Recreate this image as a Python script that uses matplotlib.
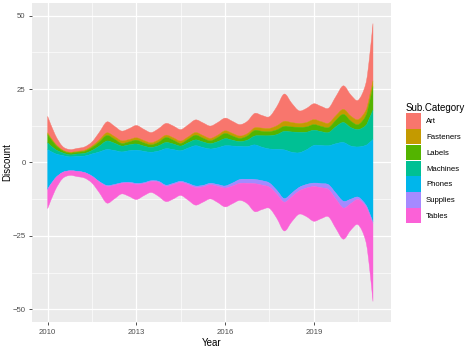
import numpy as np
import matplotlib
matplotlib.use("Agg")
import matplotlib.pyplot as plt
from matplotlib.patches import Patch, PathPatch
from matplotlib.path import Path

# sample points along the year axis (quarter years, extra point near the end spike)
year = [2010.0, 2010.25, 2010.5, 2010.75, 2011.0, 2011.25, 2011.5, 2011.75,
        2012.0, 2012.25, 2012.5, 2012.75, 2013.0, 2013.25, 2013.5, 2013.75,
        2014.0, 2014.25, 2014.5, 2014.75, 2015.0, 2015.25, 2015.5, 2015.75,
        2016.0, 2016.25, 2016.5, 2016.75, 2017.0, 2017.25, 2017.5, 2017.75,
        2018.0, 2018.25, 2018.5, 2018.75, 2019.0, 2019.25, 2019.5, 2019.75,
        2020.0, 2020.25, 2020.5, 2020.75, 2020.875, 2021.0]

# stream thickness of each sub category (discount)
art = [5.6, 3.0, 1.2, 0.9, 1.0, 1.1, 1.4, 2.6, 3.7, 3.5, 3.3, 3.7, 4.2, 3.8, 3.5, 3.8,
       4.0, 4.0, 3.9, 4.1, 4.3, 4.3, 4.2, 4.3, 4.3, 4.1, 3.9, 4.2, 4.9, 4.3, 4.0, 6.5,
       9.3, 6.6, 4.3, 4.8, 5.4, 5.2, 5.1, 6.5, 8.0, 7.2, 6.6, 9.0, 13.0, 19.5]
fasteners = [0.6, 0.4, 0.3, 0.3, 0.3, 0.4, 0.5, 0.7, 0.9, 0.9, 0.9, 0.8, 0.8, 0.8, 0.7, 0.8,
             0.8, 0.8, 0.8, 0.8, 0.9, 0.9, 0.8, 0.8, 0.9, 0.9, 0.8, 0.8, 0.9, 1.1, 1.1, 1.4,
             1.7, 1.5, 1.3, 1.5, 1.7, 1.6, 1.5, 1.6, 1.7, 1.7, 1.7, 1.8, 1.9, 2.0]
labels = [2.8, 1.6, 0.7, 0.6, 0.6, 0.7, 1.0, 1.4, 1.9, 1.4, 0.9, 1.0, 1.3, 1.1, 0.9, 1.2,
          1.7, 1.3, 0.9, 1.2, 1.6, 1.3, 1.0, 1.4, 1.8, 1.4, 1.1, 1.4, 1.9, 1.5, 1.4, 1.6,
          1.7, 1.7, 1.7, 1.8, 1.9, 1.8, 1.7, 2.2, 2.8, 2.2, 1.7, 3.2, 5.2, 8.0]
machines = [2.3, 1.5, 0.9, 0.7, 0.8, 0.9, 1.2, 2.0, 2.9, 2.5, 2.0, 2.0, 2.1, 1.8, 1.6, 1.8,
            2.1, 1.9, 1.6, 1.8, 2.0, 1.9, 1.8, 2.1, 2.4, 2.0, 1.6, 2.2, 3.0, 3.9, 4.5, 5.0,
            6.3, 6.9, 7.0, 6.0, 5.2, 4.7, 4.5, 5.8, 6.8, 6.3, 5.9, 6.7, 8.2, 10.0]
phones = [13.4, 8.4, 5.8, 4.7, 5.1, 5.6, 7.5, 10.1, 12.2, 11.6, 10.5, 10.7, 11.3, 10.7, 9.7, 10.3,
          12.4, 11.5, 10.4, 12.0, 13.7, 12.9, 11.7, 12.5, 13.7, 12.6, 11.3, 11.1, 11.8, 11.4, 11.6, 14.0,
          16.6, 14.0, 11.8, 11.8, 12.8, 13.0, 13.3, 16.9, 20.0, 18.1, 17.1, 20.1, 23.7, 28.1]
supplies = [0.3, 0.2, 0.1, 0.1, 0.1, 0.1, 0.2, 0.2, 0.3, 0.3, 0.2, 0.3, 0.3, 0.3, 0.3, 0.3,
            0.4, 0.4, 0.4, 0.4, 0.5, 0.5, 0.5, 0.6, 0.7, 1.0, 1.3, 1.4, 1.4, 1.5, 1.4, 1.3,
            1.2, 1.2, 1.2, 1.2, 1.2, 1.4, 1.6, 2.0, 2.3, 1.5, 0.8, 0.6, 0.6, 0.6]
tables = [6.4, 3.9, 2.0, 1.5, 1.7, 1.8, 2.2, 3.6, 5.7, 4.6, 3.6, 4.5, 5.2, 4.1, 3.7, 4.8,
          5.2, 4.9, 4.4, 5.3, 6.0, 5.2, 4.8, 5.5, 6.4, 6.0, 5.8, 6.9, 9.5, 8.3, 7.2, 8.2,
          9.8, 8.5, 7.9, 9.7, 11.8, 10.5, 9.3, 10.0, 10.6, 9.0, 8.6, 11.6, 17.4, 26.4]

categories = ["Art", "Fasteners", "Labels", "Machines", "Phones", "Supplies", "Tables"]
colors = ["#F8766D", "#C49A00", "#53B400", "#00C094", "#00B6EB", "#A58AFF", "#FB61D7"]

plt.rcParams['font.family'] = ['Liberation Sans', 'DejaVu Sans']


# smooth curve through the points (Catmull-Rom drawn as cubic Bezier)
def smooth_path(xs, ys):
    pts = np.column_stack([xs, ys])
    p = np.vstack([pts[0], pts, pts[-1]])
    verts = [pts[0]]
    for i in range(1, len(p) - 2):
        verts += [p[i] + (p[i + 1] - p[i - 1]) / 6,
                  p[i + 1] - (p[i + 2] - p[i]) / 6,
                  p[i + 1]]
    return verts


fig = plt.figure(figsize=(4.74, 3.51), dpi=100)
ax = fig.add_axes([0.0669, 0.0835, 0.7574, 0.9071])
ax.set_facecolor("#EBEBEB")

# streamgraph, stacked from top (Art) to bottom (Tables), mirrored around zero
x = np.array(year)
stack = np.array([art, fasteners, labels, machines, phones, supplies, tables])
total = stack.sum(axis=0)
edges = total / 2 - np.vstack([np.zeros(len(x)), np.cumsum(stack, axis=0)])
for i, c in enumerate(colors):
    upper = smooth_path(x, edges[i])
    lower = smooth_path(x[::-1], edges[i + 1][::-1])
    verts = upper + lower + [upper[0]]
    n = len(upper)
    codes = ([Path.MOVETO] + [Path.CURVE4] * (n - 1) + [Path.LINETO]
             + [Path.CURVE4] * (n - 1) + [Path.CLOSEPOLY])
    ax.add_patch(PathPatch(Path(verts, codes), facecolor=c, edgecolor=c,
                           linewidth=0.3, zorder=3))

# axes, ticks and grid in ggplot style
ax.set_xlim(2009.46, 2021.6)
ax.set_ylim(-54.2, 54.2)
ax.set_xticks([2010, 2013, 2016, 2019])
ax.set_yticks([-50, -25, 0, 25, 50])
ax.set_xticks([2011.5, 2014.5, 2017.5, 2020.5], minor=True)
ax.set_yticks([-37.5, -12.5, 12.5, 37.5], minor=True)
ax.grid(which='major', color='white', linewidth=0.9, zorder=0)
ax.grid(which='minor', color='white', linewidth=0.45, zorder=0)
ax.set_axisbelow(True)
for s in ax.spines.values():
    s.set_visible(False)
ax.tick_params(which='major', length=2.4, width=0.6, color='#333333',
               labelsize=5.6, labelcolor='#4D4D4D', pad=2)
ax.tick_params(axis='x', which='major', pad=3)
ax.tick_params(which='minor', length=0)

ax.set_xlabel("Year", fontsize=7, labelpad=1.5)
ax.set_ylabel("Discount", fontsize=7)
ax.yaxis.set_label_coords(-0.054, 0.5)

# legend
handles = [Patch(facecolor=c, edgecolor='none') for c in colors]
fig.legend(handles, categories, title="Sub.Category", loc='upper left',
           bbox_to_anchor=(0.848, 0.718), frameon=False, fontsize=5.6,
           title_fontsize=7, handlelength=1.95, handleheight=2.67,
           labelspacing=0.05, handletextpad=0.65, borderpad=0,
           alignment='left')

fig.savefig("out.png", dpi=100)
